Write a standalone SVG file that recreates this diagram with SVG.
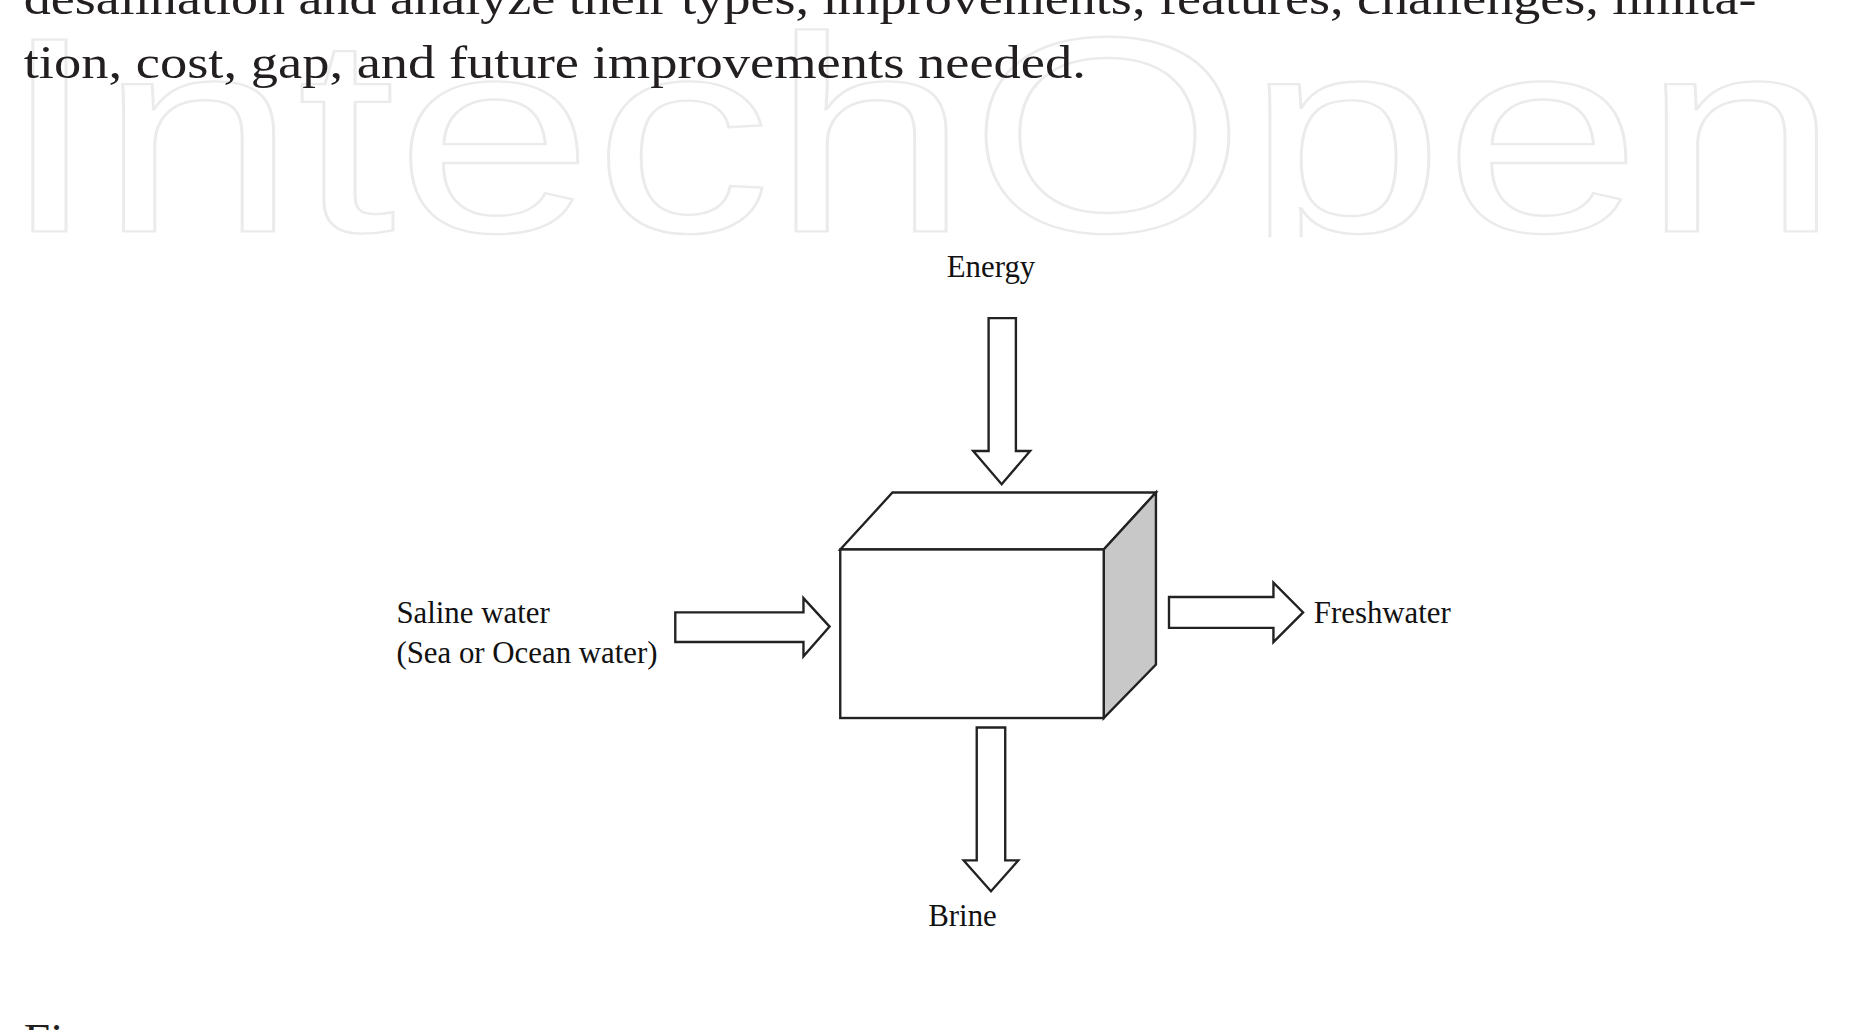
<svg xmlns="http://www.w3.org/2000/svg" width="1855" height="1030" viewBox="0 0 1855 1030">
<defs><clipPath id="wmclip"><rect x="0" y="0" width="1563" height="200"/></clipPath></defs>
<style>
.body{font-family:"Liberation Serif","DejaVu Serif",serif;font-size:40px;fill:#231f20}
.lbl{font-family:"Liberation Serif","DejaVu Serif",serif;font-size:26px;fill:#111}
.wm{font-family:"Liberation Sans","DejaVu Sans",sans-serif;font-size:235px;fill:none;stroke:#ebebeb;stroke-width:2}
.sh{fill:#fff;stroke:#222;stroke-width:2;stroke-linejoin:miter}
</style>
<rect width="1855" height="1030" fill="#fff"/>
<g transform="scale(1.1868)">
<text class="wm" x="0" y="195" textLength="1550" lengthAdjust="spacingAndGlyphs" clip-path="url(#wmclip)">IntechOpen</text>
<text class="body" x="20" y="12" textLength="1460" lengthAdjust="spacingAndGlyphs">desalination and analyze their types, improvements, features, challenges, limita-</text>
<text class="body" x="20" y="66" textLength="895" lengthAdjust="spacingAndGlyphs">tion, cost, gap, and future improvements needed.</text>
<text class="body" x="20" y="890">Fi</text>
<g id="process">
<polygon class="sh" points="708,463 752,415 974,415 930,463"/>
<polygon points="930,463 974,415 974,560 930,605" fill="#c8c8c8" stroke="#222" stroke-width="2"/>
<rect class="sh" x="708" y="463" width="222" height="142"/>
</g>
<g id="connectors">
<polygon class="sh" points="833,268 856,268 856,380 868,380 844,408 820,380 833,380"/>
<polygon class="sh" points="569,516 677,516 677,504 699,528 677,553 677,541 569,541"/>
<polygon class="sh" points="985,503 1073,503 1073,491 1098,516 1073,541 1073,529 985,529"/>
<polygon class="sh" points="823,613 847,613 847,725 858,725 835,751 812,725 823,725"/>
</g>
<g id="energy"><text class="lbl" x="835" y="233" text-anchor="middle">Energy</text></g>
<g id="saline"><text class="lbl" x="334" y="525">Saline water</text><text class="lbl" x="334" y="559">(Sea or Ocean water)</text></g>
<g id="freshwater"><text class="lbl" x="1107" y="525">Freshwater</text></g>
<g id="brine"><text class="lbl" x="811" y="780" text-anchor="middle">Brine</text></g>
</g>
</svg>
